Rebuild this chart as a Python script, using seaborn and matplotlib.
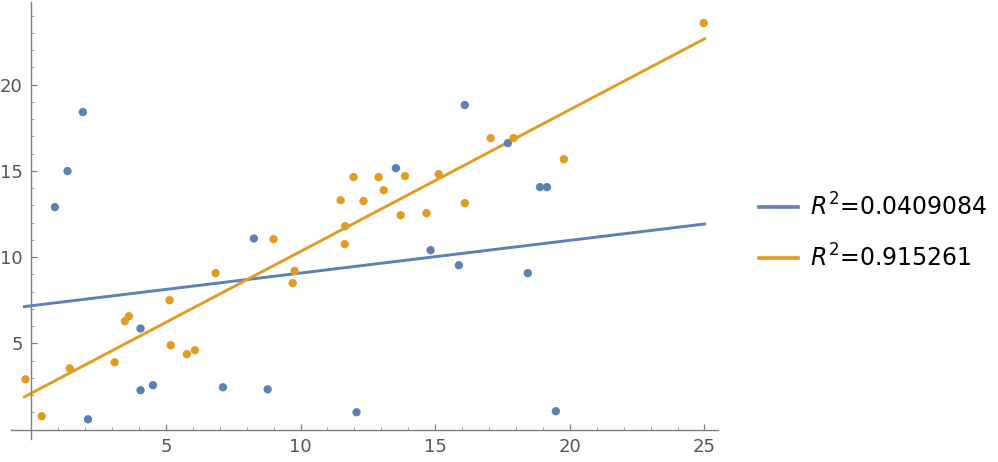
import numpy as np
import pandas as pd
import matplotlib
matplotlib.use("Agg")
import matplotlib.pyplot as plt
import seaborn as sns

# values
blue_x = [0.88, 1.35, 1.92, 2.11, 4.06, 4.06, 4.52, 7.12, 8.27, 8.78,
          12.08, 13.54, 14.83, 15.88, 16.10, 17.70, 18.44, 18.89, 19.15, 19.48]
blue_y = [12.90, 14.99, 18.41, 0.59, 5.86, 2.28, 2.57, 2.45, 11.08, 2.33,
          1.00, 15.16, 10.40, 9.53, 18.82, 16.61, 9.07, 14.06, 14.06, 1.06]

orange_x = [-0.21, 0.39, 1.43, 3.10, 3.48, 3.63, 5.14, 5.18, 5.78, 6.08,
            6.85, 9.00, 9.71, 9.78, 11.49, 11.66, 11.64, 11.97, 12.34, 12.90,
            13.09, 13.72, 13.88, 14.68, 15.13, 16.10, 17.06, 17.91, 19.78, 24.97]
orange_y = [2.91, 0.77, 3.55, 3.90, 6.28, 6.57, 7.50, 4.89, 4.37, 4.60,
            9.07, 11.04, 8.49, 9.20, 13.30, 11.79, 10.75, 14.64, 13.25, 14.64,
            13.88, 12.43, 14.70, 12.55, 14.81, 13.13, 16.90, 16.90, 15.68, 23.58]

series = ["a", "b"]
labels = ["$R^2$=0.0409084", "$R^2$=0.915261"]
colors = ["#5E81B5", "#E19C24"]

df = pd.concat([
    pd.DataFrame({"x": blue_x, "y": blue_y, "s": "a"}),
    pd.DataFrame({"x": orange_x, "y": orange_y, "s": "b"}),
])

fig = plt.figure(figsize=(9.98, 4.62), dpi=100)
ax = fig.add_axes([0.011, 0.0498, 0.7084, 0.946])

sns.scatterplot(data=df, x="x", y="y", hue="s", palette=colors,
                s=36, edgecolor="none", legend=False, ax=ax, zorder=3)

# least-squares lines over the full x range of the data
xs = np.linspace(df["x"].min() - 0.04, df["x"].max() + 0.03, 50)
handles = []
for name, col, lab in zip(series, colors, labels):
    sub = df[df["s"] == name]
    k, b = np.polyfit(sub["x"], sub["y"], 1)
    sns.lineplot(x=xs, y=k * xs + b, color=col, lw=2.1, ax=ax, zorder=2)
    handles.append(plt.Line2D([], [], color=col, lw=2.6, label=lab))

ax.set_xlim(-0.75, 25.5)
ax.set_ylim(-0.55, 24.8)
ax.set_xlabel("")
ax.set_ylabel("")

# axes through the origin, Mathematica-like
for side in ["top", "right"]:
    ax.spines[side].set_visible(False)
ax.spines["left"].set_position(("data", 0))
ax.spines["bottom"].set_position(("data", 0))
for side in ["left", "bottom"]:
    ax.spines[side].set_color("#7f7f7f")
    ax.spines[side].set_linewidth(1.0)

ax.set_xticks([5, 10, 15, 20, 25])
ax.set_yticks([5, 10, 15, 20])
ax.set_xticks(np.arange(1, 26, 1), minor=True)
ax.set_yticks(np.arange(1, 25, 1), minor=True)
ax.tick_params(which="major", direction="in", length=4, width=0.9,
               color="#7f7f7f", labelcolor="#555555", labelsize=13, pad=6)
ax.tick_params(which="minor", direction="in", length=2, width=0.7,
               color="#9a9a9a")
ax.tick_params(axis="y", which="both", pad=6)

fig.legend(handles=handles, loc="center left", bbox_to_anchor=(0.749, 0.497),
           frameon=False, fontsize=17, handlelength=1.65, handletextpad=0.5,
           labelspacing=1.0, borderpad=0)

fig.savefig("out.png", dpi=100)
